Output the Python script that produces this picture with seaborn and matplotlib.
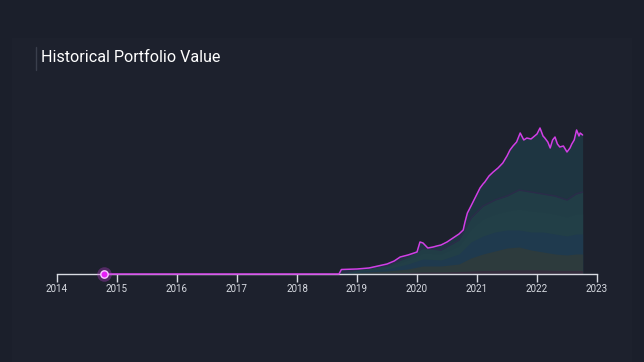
import numpy as np
import pandas as pd
import seaborn as sns
import matplotlib.pyplot as plt
from matplotlib.patches import Rectangle

# total portfolio value (arbitrary units), decimal years
dates = [2014.78, 2018.70, 2018.74, 2019.0, 2019.2, 2019.35, 2019.5, 2019.62, 2019.72,
         2019.85, 2020.0, 2020.05, 2020.1, 2020.18, 2020.27, 2020.33, 2020.4, 2020.5,
         2020.6, 2020.7, 2020.77, 2020.8, 2020.84, 2020.9, 2020.95, 2021.0, 2021.05,
         2021.1, 2021.13, 2021.2, 2021.27, 2021.35, 2021.43, 2021.5, 2021.55, 2021.6,
         2021.66, 2021.72, 2021.78, 2021.83, 2021.9, 2021.94, 2022.0, 2022.05, 2022.1,
         2022.13, 2022.18, 2022.22, 2022.26, 2022.3, 2022.34, 2022.38, 2022.44, 2022.5,
         2022.55, 2022.58, 2022.62, 2022.66, 2022.7, 2022.72, 2022.76]
total = [0, 0, 4.5, 5, 6, 8, 10, 13, 17, 19, 22, 32, 31, 26, 27, 28, 29, 32,
         36, 40, 44, 52, 61, 68, 74, 80, 86, 90, 92, 98, 102, 106, 111, 118, 124, 128,
         132, 141, 134, 136, 135, 137, 140, 146, 138, 136, 132, 126, 134, 137, 130, 127,
         128, 122, 126, 130, 134, 144, 138, 141, 139]

# holdings breakdown (cumulative boundaries of the stacked bands)
layer_dates = [2018.70, 2019.0, 2019.5, 2019.85, 2020.1, 2020.4, 2020.7, 2020.9, 2021.1,
               2021.3, 2021.5, 2021.7, 2021.9, 2022.1, 2022.3, 2022.5, 2022.65, 2022.76]
band_red = [0, 0.5, 1, 1.5, 2, 2, 2.5, 3, 3.5, 3.5, 4, 4, 4, 4, 3.5, 3.5, 3.5, 3.5]
band_orange = [0, 1.5, 3, 5, 8, 8, 10, 16, 20, 23, 26, 27, 24, 22, 20, 19, 20, 20]
band_blue = [0, 2.5, 5, 10, 15, 14, 20, 32, 38, 42, 44, 44, 42, 42, 40, 38, 40, 40]
band_green = [0, 3.5, 7, 14, 21, 20, 28, 45, 55, 60, 63, 65, 63, 62, 60, 57, 60, 60]
band_teal = [0, 4.2, 8.5, 17, 26, 24, 34, 56, 68, 74, 78, 84, 82, 80, 78, 74, 80, 82]

years = list(range(2014, 2024))

bg = '#1b1f2b'
sns.set_style('dark', {'axes.facecolor': bg, 'figure.facecolor': bg})
plt.rcParams['font.family'] = ['Roboto', 'DejaVu Sans']

fig = plt.figure(figsize=(6.44, 3.62), dpi=100)
fig.patches.append(Rectangle((12 / 644, 0), 620 / 644, 1 - 38 / 362, transform=fig.transFigure,
                             facecolor='#1d212d', edgecolor='none', zorder=-5))
ax = fig.add_axes([57 / 644, 1 - 274 / 362, 540 / 644, 150 / 362])
ax.set_facecolor('none')
ax.set_zorder(2)

df = pd.DataFrame({'date': dates, 'value': total})
ldf = pd.DataFrame({'date': layer_dates, 'red': band_red, 'orange': band_orange,
                    'blue': band_blue, 'green': band_green, 'teal': band_teal})

# area under the line
ax.fill_between(df['date'], 0, df['value'], color='#1e3541', lw=0, zorder=1)
bands = [('teal', '#213d46'), ('green', '#223f47'), ('blue', '#1f3a4e'),
         ('orange', '#2d3b3d'), ('red', '#352d3d')]
for name, col in bands:
    ax.fill_between(ldf['date'], 0, ldf[name], color=col, lw=0, zorder=2)
ax.plot(ldf['date'], ldf['teal'], color='#2b2c4a', lw=1.0, zorder=2)

sns.lineplot(data=df, x='date', y='value', ax=ax, color='#d13fe6', lw=1.1,
             zorder=4, clip_on=False)
ax.scatter([dates[0]], [total[0]], s=110, color='#d13fe6', alpha=0.3, lw=0,
           zorder=5, clip_on=False)
ax.scatter([dates[0]], [total[0]], s=28, color='#e41ef5', edgecolor='#f6c8ff',
           lw=1.0, zorder=6, clip_on=False)

ax.set_xlim(2014, 2023)
ax.set_ylim(0, 150)
ax.set_xticks(years)
ax.set_xticklabels([str(y) for y in years])
ax.set_yticks([])
ax.set_xlabel('')
ax.set_ylabel('')
ax.grid(False)
for s in ['top', 'right', 'left']:
    ax.spines[s].set_visible(False)
ax.spines['bottom'].set_color('#d8dbe2')
ax.spines['bottom'].set_linewidth(1.0)
ax.spines['bottom'].set_zorder(3)
ax.tick_params(axis='x', colors='#d8dbe2', length=6, width=1, direction='out',
               labelsize=7, pad=1, bottom=True)

fig.text(41 / 644, 1 - 58 / 362, 'Historical Portfolio Value', color='white',
         fontsize=11.6, va='center', ha='left')
fig.add_artist(plt.Line2D([36 / 644, 36 / 644], [1 - 47 / 362, 1 - 70 / 362],
                          transform=fig.transFigure, color='#3a3f4c', lw=1))

fig.savefig('out.png', dpi=100, facecolor=bg)
